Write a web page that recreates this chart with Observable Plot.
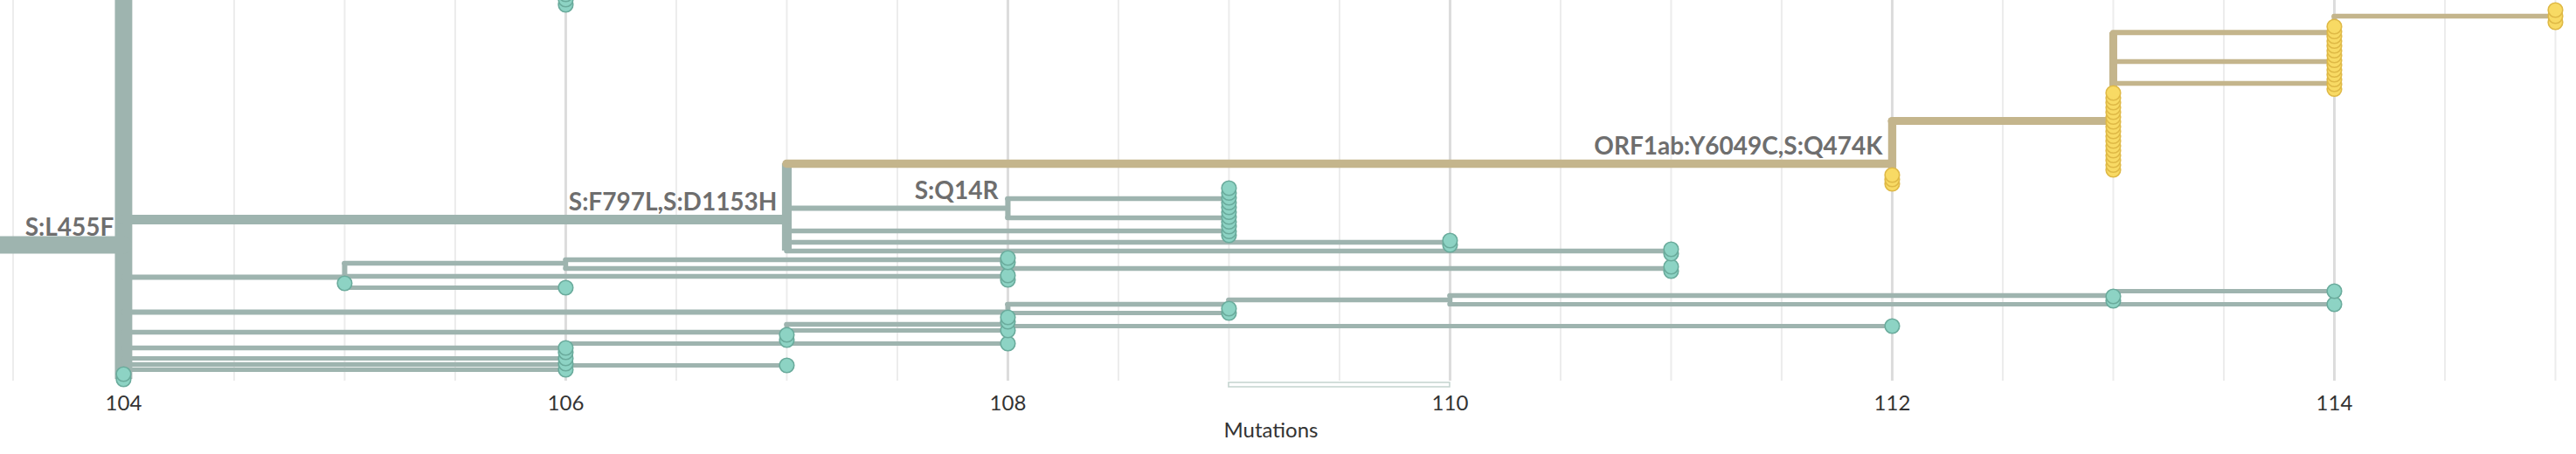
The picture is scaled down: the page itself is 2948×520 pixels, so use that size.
<!DOCTYPE html>
<html><head><meta charset="utf-8">
<script src="https://cdn.jsdelivr.net/npm/d3@7"></script>
<script src="https://cdn.jsdelivr.net/npm/@observablehq/plot@0.6"></script>
<style>html,body{margin:0;padding:0;background:#fff;overflow:hidden;font-family:Lato,sans-serif}</style>
</head><body><div id="chart"></div>
<script>
// ---- tree data (x = mutations from root, y = tree layout position) ----
const innerId     = ["P","R","T106","N107","G112","G113","G114a","G115","G114b","G114c","Q108","Q109a","Q109b","N109c","N110a","N111a","N105","N106a","N108c","N111b","N108d","N108a","N109","N110","N113b","N107b","N108b","N106b","N106c"];
const innerParent = [null,"P","R","R","N107","G112","G113","G114a","G113","G113","N107","Q108","Q108","N107","N107","N107","R","N105","N106a","N106a","N105","R","N108a","N109","N110","R","N107b","R","R"];
const innerMut    = [103,104,106,107,112,113,114,115,114,114,108,109,109,109,110,111,105,106,108,111,108,108,109,110,113,107,108,106,106];
const innerY      = [280,280,-20,251,187,138,36.7,18,70,95,238,227,249,264,277,287,317,301,297,307,316,357,348,343,338,380,371,398,417];
const innerClade  = ["A","A","A","A","B","B","B","B","B","B","A","A","A","A","A","A","A","A","A","A","A","A","A","A","A","A","A","A","A"];

const tipParent = ["T106","G112","G113","G114a","G115","G114b","G114c","Q109a","Q109b","N109c","N110a","N111a","N108c","N111b","N108d","N105","N105","N108a","N108a","N109","N110","N113b","N113b","N108b","N108b","N107b","N107b","N106b","N106b","R","N106c","N106c","R","R"];
const tipMut    = [106,112,113,114,115,114,114,109,109,109,110,111,108,111,108,106,105,109,108,109,114,114,113,112,108,108,107,108,106,106,107,106,106,104];
const tipYs     = [[-13,-7,-1,5],[200,205,210],
  [106,111.5,117,122.5,128,133.5,139,144.5,150,155.5,161,166.5,172,177.5,183,188.5,194],
  [30,35.5,41,46.5,52],[11,18,25],[57.5,63,68.5,74,79.5],[85,90.5,96,101.5],
  [215,220.5,226,231.5,237],[242.5,248,253.5,259],[264.5,269],[275,280],[285,290],
  [295,300],[305,310],[315,320],[329],[324],[358],[363],[353],[348],[333],[339,344],
  [373],[368],[378],[383,389],[393],[398,403],[410],[418],[416],[423],[428,434]];

const offscreenSamples = 43; // samples of the root clade above the visible window

const labelNode = ["R","N107","Q108","G112"];
const labelText = ["S:L455F","S:F797L,S:D1153H","S:Q14R","ORF1ab:Y6049C,S:Q474K"];

const xTicks = [104,106,108,110,112,114];
const xMinor = [103.5,104.5,105,105.5,106.5,107,107.5,108.5,109,109.5,110.5,111,111.5,112.5,113,113.5,114.5,115];
const scaleBar = [109,110];

// ---- build tree ----
const branchColor = {A:"#9eb4af", B:"#c4b58c"};
const tipFill = {A:"#8dd3c4", B:"#f8da64"};
const tipStroke = {A:"#6aab9c", B:"#dfb946"};

const nodes = new Map();
innerId.forEach((id,i)=>nodes.set(id,{id,parent:innerParent[i],x:innerMut[i],y:innerY[i],clade:innerClade[i],children:[],count:0,tip:false}));
const tips = [];
tipParent.forEach((p,i)=>tipYs[i].forEach(y=>{
  const par = nodes.get(p);
  tips.push({parent:p,x:tipMut[i],y,clade:par.clade,children:[],count:1,tip:true});
}));
for (const n of nodes.values()) if (n.parent) nodes.get(n.parent).children.push(n);
for (const t of tips) nodes.get(t.parent).children.push(t);
function cnt(n){ if(n.tip) return n.count; n.count = d3.sum(n.children,cnt) + (n.id==="R"?offscreenSamples:0); return n.count; }
cnt(nodes.get("P"));
const width = d3.scaleLinear().domain([1,128]).range([5.2,19.9]);

const all = [...nodes.values(), ...tips];
const horiz = all.filter(n=>n.parent && nodes.get(n.parent).x !== n.x).map(n=>({x1:nodes.get(n.parent).x,x2:n.x,y:n.y,c:branchColor[n.clade],w:width(n.count)}));
const vert = [...nodes.values()].filter(n=>n.children.length>0).map(n=>({x:n.x,y1:d3.min(n.children,c=>c.y),y2:d3.max(n.children,c=>c.y),c:branchColor[n.clade],w:width(n.count)}));
const dots = tips.slice().sort((a,b)=>b.y-a.y);
const labels = labelNode.map((id,i)=>({x:nodes.get(id).x,y:nodes.get(id).y,text:labelText[i]}));

const chart = Plot.plot({
  width: 2948, height: 520,
  marginLeft: 0, marginRight: 0, marginTop: 0, marginBottom: 84,
  x: {domain: [103.443, 115.095], range: [0, 2948]},
  y: {domain: [0, 436], range: [0, 436], axis: null},
  color: {type: "identity"},
  style: {fontFamily: "Lato, sans-serif", overflow: "hidden", background: "#fff", color: "#333"},
  marks: [
    Plot.ruleX(xMinor, {stroke: "#ececec", strokeWidth: 2}),
    Plot.ruleX(xTicks, {stroke: "#dcdcdc", strokeWidth: 3}),
    Plot.ruleX(vert, {x: "x", y1: "y1", y2: "y2", stroke: "c", strokeWidth: "w"}),
    Plot.ruleY(horiz, {y: "y", x1: "x1", x2: "x2", stroke: "c", strokeWidth: "w", strokeLinecap: "round"}),
    Plot.rect([scaleBar], {x1: d=>d[0], x2: d=>d[1], y1: 438, y2: 443, fill: "none", stroke: "#c3d3ce", strokeWidth: 1.5}),
    Plot.dot(dots, {x: "x", y: "y", r: 8.3, fill: d=>tipFill[d.clade], stroke: d=>tipStroke[d.clade], strokeWidth: 1.6}),
    Plot.text(labels, {x: "x", y: "y", text: "text", textAnchor: "end", lineAnchor: "bottom", dx: -11, dy: -11, fontSize: 28, fontWeight: 700, fill: "#6e6e6e"}),
    Plot.axisX({ticks: xTicks, tickSize: 0, tickPadding: 16, fontSize: 24, label: null, fill: "#333"}),
    Plot.text(["Mutations"], {text: d=>d, frameAnchor: "bottom", lineAnchor: "top", dy: 47, dx: -20, fontSize: 24, fill: "#333"})
  ]
});
document.getElementById("chart").appendChild(chart);
</script>
</body></html>
